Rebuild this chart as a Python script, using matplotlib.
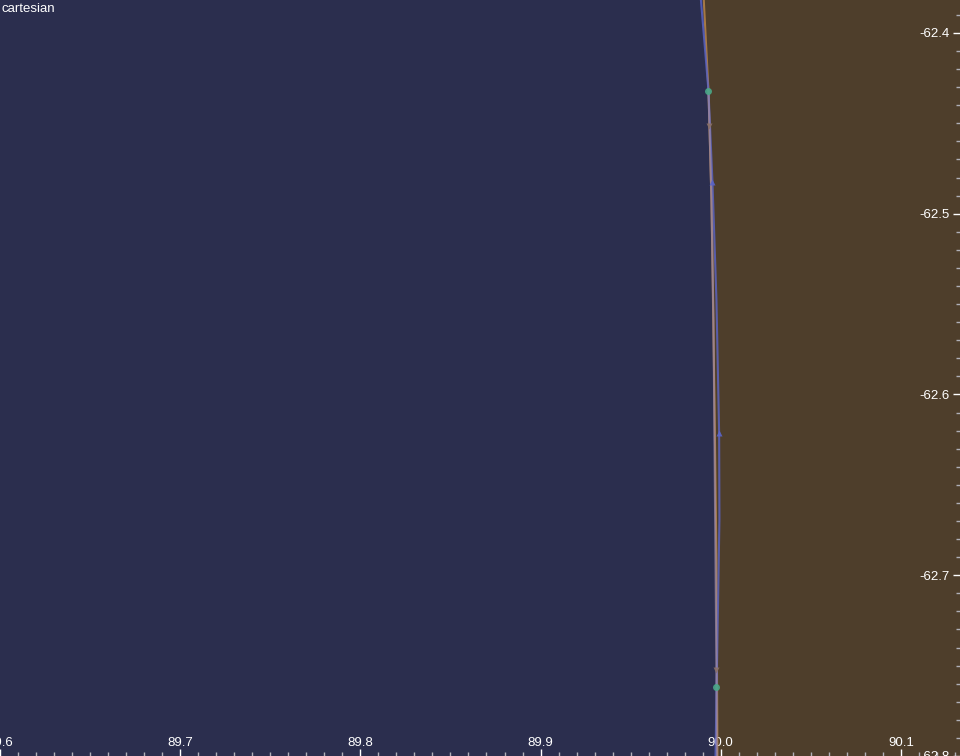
import numpy as np
import matplotlib
matplotlib.use("Agg")
from matplotlib import pyplot as plt
from matplotlib.ticker import MultipleLocator

plt.rcParams['font.family'] = ['Liberation Sans', 'DejaVu Sans']

# edge lines (lon, lat)
blue_x = [89.98878, 89.99320, 89.99541, 89.99762, 89.99912, 89.99928, 89.99818, 89.99707]
blue_y = [-62.3790, -62.4320, -62.4823, -62.5475, -62.6215, -62.6691, -62.7354, -62.8017]

orange_x = [89.99044, 89.99320, 89.99486, 89.99652, 89.99762, 89.99818]
orange_y = [-62.3790, -62.4320, -62.4923, -62.6028, -62.6912, -62.8017]

gray_x = [89.99320, 89.99376, 89.99486, 89.99597, 89.99680, 89.99762, 89.99762, 89.99790]
gray_y = [-62.4320, -62.4514, -62.4923, -62.5586, -62.6580, -62.7525, -62.7619, -62.8017]

# boundary between the two regions
edge_x = [89.99044, 89.99320, 89.99376, 89.99486, 89.99597, 89.99680, 89.99762, 89.99790]
edge_y = [-62.3790, -62.4320, -62.4514, -62.4923, -62.5586, -62.6580, -62.7525, -62.8017]

# point markers
dot_x = [89.99320, 89.99762]
dot_y = [-62.4320, -62.7619]
down_x = [89.99376, 89.99762]
down_y = [-62.4514, -62.7525]
up_x = [89.99541, 89.99912]
up_y = [-62.4823, -62.6215]

xticks = [89.6, 89.7, 89.8, 89.9, 90.0, 90.1]
yticks = [-62.4, -62.5, -62.6, -62.7, -62.8]

x0, x1 = 89.6024, 90.1328
y0, y1 = -62.7995, -62.3818

navy = "#2b2e4e"
brown = "#4e3e2b"

fig = plt.figure(figsize=(9.6, 7.56), dpi=100)
ax = fig.add_axes([0, 0, 1, 1])
ax.set_facecolor(navy)

ax.fill_betweenx(edge_y, x0 - 1, edge_x, color=navy, lw=0)
ax.fill_betweenx(edge_y, edge_x, x1 + 1, color=brown, lw=0)

ax.plot(orange_x, orange_y, '-', color="#c08a48", lw=1.5, alpha=0.8)
ax.plot(blue_x, blue_y, '-', color="#5a64c8", lw=1.5, alpha=0.8)
ax.plot(gray_x, gray_y, '-', color="#9a88a8", lw=1.5, alpha=0.7)
ax.plot(dot_x, dot_y, 'o', color="#4aa888", ms=5, alpha=0.9, mec="none")
ax.plot(down_x, down_y, 'v', color="#8a7068", ms=5, alpha=0.9, mec="none")
ax.plot(up_x, up_y, '^', color="#5a64c8", ms=5, alpha=0.9, mec="none")

ax.set_xlim(x0, x1)
ax.set_ylim(y0, y1)

ax.set_xticks(xticks)
ax.set_xticklabels(["%.1f" % v for v in xticks])
ax.set_yticks(yticks)
ax.set_yticklabels(["%.1f" % v for v in yticks])
ax.xaxis.set_minor_locator(MultipleLocator(0.01))
ax.yaxis.set_minor_locator(MultipleLocator(0.01))

ax.yaxis.tick_right()
ax.tick_params(axis='x', which='both', direction='in', colors='white', labelsize=9.5, pad=-13.5)
ax.tick_params(axis='y', which='both', direction='in', colors='white', labelsize=9.5, pad=-29)
ax.tick_params(which='major', length=5, width=1)
ax.tick_params(which='minor', length=3, width=1, color='#b0b0b8')

for s in ax.spines.values():
    s.set_visible(False)

ax.text(0.002, 0.988, "cartesian", transform=ax.transAxes, color='white',
        fontsize=9.5, ha='left', va='center')

fig.savefig("out.png", dpi=100, facecolor=navy)
